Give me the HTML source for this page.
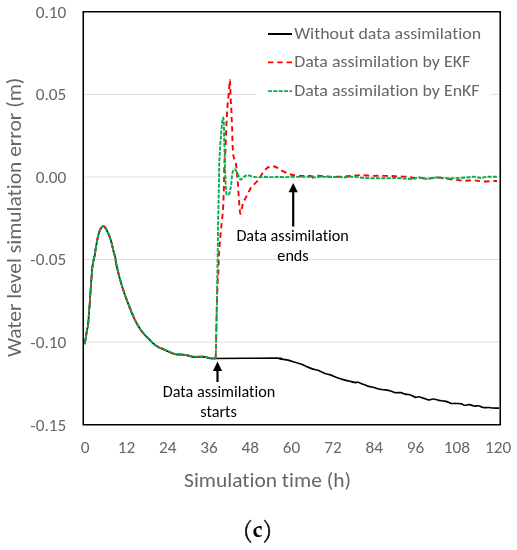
<!DOCTYPE html>
<html><head><meta charset="utf-8"><title>Water level simulation error</title>
<style>
html,body{margin:0;padding:0;background:#fff;}
body{width:517px;height:550px;overflow:hidden;}
svg{display:block;}
text{font-family:Carlito, 'Liberation Sans', sans-serif;font-variant-ligatures:none;font-kerning:normal;}
</style></head>
<body>
<svg width="517" height="550" viewBox="0 0 517 550">
<rect width="517" height="550" fill="#fff"/>
<line x1="84" y1="94.5" x2="500" y2="94.5" stroke="#e0e0e0" stroke-width="1"/>
<line x1="84" y1="177.0" x2="500" y2="177.0" stroke="#e0e0e0" stroke-width="1"/>
<line x1="84" y1="259.5" x2="500" y2="259.5" stroke="#e0e0e0" stroke-width="1"/>
<line x1="84" y1="342.0" x2="500" y2="342.0" stroke="#e0e0e0" stroke-width="1"/>
<path d="M84.40,344.25 C84.53,343.75 84.90,342.75 85.20,341.25 C85.50,339.75 85.90,337.08 86.20,335.25 C86.50,333.42 86.70,331.92 87.00,330.25 C87.30,328.58 87.72,327.42 88.00,325.25 C88.28,323.08 88.50,319.75 88.70,317.25 C88.90,314.75 89.02,312.58 89.20,310.25 C89.38,307.92 89.63,305.75 89.80,303.25 C89.97,300.75 90.08,297.10 90.20,295.25 C90.32,293.40 90.38,293.63 90.50,292.15 C90.62,290.67 90.78,288.13 90.90,286.35 C91.02,284.57 91.07,283.22 91.20,281.45 C91.33,279.68 91.57,277.65 91.70,275.75 C91.83,273.85 91.83,271.83 92.00,270.05 C92.17,268.27 92.40,266.83 92.70,265.05 C93.00,263.27 93.45,260.98 93.80,259.35 C94.15,257.72 94.53,256.68 94.80,255.25 C95.07,253.82 95.10,252.72 95.40,250.75 C95.70,248.78 96.07,246.22 96.60,243.45 C97.13,240.68 97.95,236.53 98.60,234.15 C99.25,231.77 99.80,230.47 100.50,229.15 C101.20,227.83 102.03,226.50 102.80,226.25 C103.57,226.00 104.32,226.72 105.10,227.65 C105.88,228.58 106.72,230.25 107.50,231.85 C108.28,233.45 109.10,235.32 109.80,237.25 C110.50,239.18 111.08,241.12 111.70,243.45 C112.32,245.78 112.92,248.93 113.50,251.25 C114.08,253.57 114.72,255.10 115.20,257.35 C115.68,259.60 115.60,261.08 116.40,264.75 C117.20,268.42 118.65,274.50 120.00,279.35 C121.35,284.20 122.83,289.00 124.50,293.85 C126.17,298.70 128.17,303.90 130.00,308.45 C131.83,313.00 133.68,317.52 135.50,321.15 C137.32,324.78 139.32,327.90 140.90,330.25 C142.48,332.60 143.78,333.88 145.00,335.25 C146.22,336.62 147.37,337.62 148.20,338.45 C149.03,339.28 149.05,339.30 150.00,340.25 C150.95,341.20 152.48,342.98 153.90,344.15 C155.32,345.32 156.83,346.35 158.50,347.25 C160.17,348.15 162.10,348.77 163.90,349.55 C165.70,350.33 167.48,351.17 169.30,351.95 C171.12,352.73 172.85,353.80 174.80,354.25 C176.75,354.70 178.95,354.47 181.00,354.65 C183.05,354.83 185.17,354.98 187.10,355.35 C189.03,355.72 190.78,356.57 192.60,356.85 C194.42,357.13 196.07,357.05 198.00,357.05 C199.93,357.05 202.40,356.67 204.20,356.85 C206.00,357.03 207.27,357.87 208.80,358.15 C210.33,358.43 212.37,358.50 213.40,358.55 C214.43,358.60 204.60,358.52 215.00,358.45 C225.40,358.38 265.03,358.08 275.80,358.15 C286.57,358.22 278.68,358.68 279.60,358.85 C280.52,359.02 279.73,358.90 281.30,359.15 C282.87,359.40 286.75,359.83 289.00,360.35 C291.25,360.87 292.70,361.60 294.80,362.25 C296.90,362.90 299.67,363.53 301.60,364.25 C303.53,364.97 304.63,365.78 306.40,366.55 C308.17,367.32 310.27,368.22 312.20,368.85 C314.13,369.48 315.73,369.52 318.00,370.35 C320.27,371.18 323.87,373.13 325.80,373.85 C327.73,374.57 327.67,374.00 329.60,374.65 C331.53,375.30 335.13,376.92 337.40,377.75 C339.67,378.58 341.27,379.10 343.20,379.65 C345.13,380.20 347.03,380.57 349.00,381.05 C350.97,381.53 353.52,382.35 355.00,382.55 C356.48,382.75 356.68,382.02 357.90,382.25 C359.12,382.48 360.60,383.30 362.30,383.95 C364.00,384.60 366.17,385.55 368.10,386.15 C370.03,386.75 372.10,387.07 373.90,387.55 C375.70,388.03 377.22,388.68 378.90,389.05 C380.58,389.42 382.07,389.43 384.00,389.75 C385.93,390.07 388.68,390.47 390.50,390.95 C392.32,391.43 393.20,392.37 394.90,392.65 C396.60,392.93 399.02,392.40 400.70,392.65 C402.38,392.90 403.67,393.83 405.00,394.15 C406.33,394.47 407.48,394.27 408.70,394.55 C409.92,394.83 411.10,395.38 412.30,395.85 C413.50,396.32 414.82,397.20 415.90,397.35 C416.98,397.50 417.58,396.62 418.80,396.75 C420.02,396.88 421.75,397.67 423.20,398.15 C424.65,398.63 426.43,399.37 427.50,399.65 C428.57,399.93 428.60,399.95 429.60,399.85 C430.60,399.75 431.95,398.97 433.50,399.05 C435.05,399.13 437.22,400.02 438.90,400.35 C440.58,400.68 442.18,400.80 443.60,401.05 C445.02,401.30 446.12,401.45 447.40,401.85 C448.68,402.25 449.88,403.18 451.30,403.45 C452.72,403.72 454.22,403.40 455.90,403.45 C457.58,403.50 459.97,403.45 461.40,403.75 C462.83,404.05 463.22,405.10 464.50,405.25 C465.78,405.40 467.43,404.52 469.10,404.65 C470.77,404.78 472.95,405.87 474.50,406.05 C476.05,406.23 476.98,405.50 478.40,405.75 C479.82,406.00 481.33,407.25 483.00,407.55 C484.67,407.85 486.72,407.47 488.40,407.55 C490.08,407.63 491.33,407.97 493.10,408.05 C494.87,408.13 498.02,408.05 499.00,408.05" fill="none" stroke="#000" stroke-width="1.65" stroke-linejoin="round"/>
<path d="M84.40,344.00 C84.53,343.50 84.90,342.50 85.20,341.00 C85.50,339.50 85.90,336.83 86.20,335.00 C86.50,333.17 86.70,331.67 87.00,330.00 C87.30,328.33 87.72,327.17 88.00,325.00 C88.28,322.83 88.50,319.50 88.70,317.00 C88.90,314.50 89.02,312.33 89.20,310.00 C89.38,307.67 89.63,305.50 89.80,303.00 C89.97,300.50 90.08,296.85 90.20,295.00 C90.32,293.15 90.38,293.38 90.50,291.90 C90.62,290.42 90.78,287.88 90.90,286.10 C91.02,284.32 91.07,282.97 91.20,281.20 C91.33,279.43 91.57,277.40 91.70,275.50 C91.83,273.60 91.83,271.58 92.00,269.80 C92.17,268.02 92.40,266.58 92.70,264.80 C93.00,263.02 93.45,260.73 93.80,259.10 C94.15,257.47 94.53,256.43 94.80,255.00 C95.07,253.57 95.10,252.47 95.40,250.50 C95.70,248.53 96.07,245.97 96.60,243.20 C97.13,240.43 97.95,236.28 98.60,233.90 C99.25,231.52 99.80,230.22 100.50,228.90 C101.20,227.58 102.03,226.25 102.80,226.00 C103.57,225.75 104.32,226.47 105.10,227.40 C105.88,228.33 106.72,230.00 107.50,231.60 C108.28,233.20 109.10,235.07 109.80,237.00 C110.50,238.93 111.08,240.87 111.70,243.20 C112.32,245.53 112.92,248.68 113.50,251.00 C114.08,253.32 114.72,254.85 115.20,257.10 C115.68,259.35 115.60,260.83 116.40,264.50 C117.20,268.17 118.65,274.25 120.00,279.10 C121.35,283.95 122.83,288.75 124.50,293.60 C126.17,298.45 128.17,303.65 130.00,308.20 C131.83,312.75 133.68,317.27 135.50,320.90 C137.32,324.53 139.32,327.65 140.90,330.00 C142.48,332.35 143.78,333.63 145.00,335.00 C146.22,336.37 147.37,337.37 148.20,338.20 C149.03,339.03 149.05,339.05 150.00,340.00 C150.95,340.95 152.48,342.73 153.90,343.90 C155.32,345.07 156.83,346.10 158.50,347.00 C160.17,347.90 162.10,348.52 163.90,349.30 C165.70,350.08 167.48,350.92 169.30,351.70 C171.12,352.48 172.85,353.55 174.80,354.00 C176.75,354.45 178.95,354.22 181.00,354.40 C183.05,354.58 185.17,354.73 187.10,355.10 C189.03,355.47 190.78,356.32 192.60,356.60 C194.42,356.88 196.07,356.80 198.00,356.80 C199.93,356.80 202.40,356.42 204.20,356.60 C206.00,356.78 207.27,357.62 208.80,357.90 C210.33,358.18 212.37,358.25 213.40,358.30 C214.43,358.35 214.62,358.42 215.00,358.20 C215.38,357.98 215.52,359.93 215.70,357.00 C215.88,354.07 215.92,348.80 216.10,340.60 C216.28,332.40 216.52,318.23 216.80,307.80 C217.08,297.37 217.53,283.97 217.80,278.00 C218.07,272.03 218.22,275.73 218.40,272.00 C218.58,268.27 218.62,261.07 218.90,255.60 C219.18,250.13 219.63,244.67 220.10,239.20 C220.57,233.73 221.22,227.72 221.70,222.80 C222.18,217.88 222.70,213.73 223.00,209.70 C223.30,205.67 223.37,201.88 223.50,198.60 C223.63,195.32 223.70,193.10 223.80,190.00 C223.90,186.90 224.03,183.33 224.10,180.00 C224.17,176.67 224.12,173.33 224.20,170.00 C224.28,166.67 224.40,163.17 224.60,160.00 C224.80,156.83 225.13,156.00 225.40,151.00 C225.67,146.00 225.95,135.87 226.20,130.00 C226.45,124.13 226.70,119.63 226.90,115.80 C227.10,111.97 227.17,110.10 227.40,107.00 C227.63,103.90 228.00,100.43 228.30,97.20 C228.60,93.97 228.94,90.48 229.20,87.60 C229.46,84.72 229.67,79.83 229.85,79.90 C230.03,79.97 230.16,84.75 230.30,88.00 C230.44,91.25 230.53,96.05 230.70,99.40 C230.87,102.75 231.15,105.18 231.30,108.10 C231.45,111.02 231.47,113.80 231.60,116.90 C231.73,120.00 231.95,122.38 232.10,126.70 C232.25,131.02 232.30,138.08 232.50,142.80 C232.70,147.52 232.97,152.22 233.30,155.00 C233.63,157.78 234.10,158.23 234.50,159.50 C234.90,160.77 235.37,161.18 235.70,162.60 C236.03,164.02 236.27,166.05 236.50,168.00 C236.73,169.95 236.87,171.63 237.10,174.30 C237.33,176.97 237.63,180.38 237.90,184.00 C238.17,187.62 238.43,192.25 238.70,196.00 C238.97,199.75 239.23,203.53 239.50,206.50 C239.77,209.47 239.97,213.33 240.30,213.80 C240.63,214.27 241.07,210.97 241.50,209.30 C241.93,207.63 242.42,205.28 242.90,203.80 C243.38,202.32 243.73,201.78 244.40,200.40 C245.07,199.02 246.17,196.93 246.90,195.50 C247.63,194.07 248.13,193.12 248.80,191.80 C249.47,190.48 250.07,188.80 250.90,187.60 C251.73,186.40 252.70,185.72 253.80,184.60 C254.90,183.48 256.42,182.18 257.50,180.90 C258.58,179.62 259.35,178.35 260.30,176.90 C261.25,175.45 262.28,173.50 263.20,172.20 C264.12,170.90 264.83,170.00 265.80,169.10 C266.77,168.20 267.98,167.33 269.00,166.80 C270.02,166.27 271.02,165.95 271.90,165.90 C272.78,165.85 273.45,166.22 274.30,166.50 C275.15,166.78 276.10,167.15 277.00,167.60 C277.90,168.05 278.77,168.62 279.70,169.20 C280.63,169.78 281.32,170.42 282.60,171.10 C283.88,171.78 286.17,172.82 287.40,173.30 C288.63,173.78 289.22,173.72 290.00,174.00 C290.78,174.28 291.08,174.78 292.10,175.00 C293.12,175.22 294.75,175.13 296.10,175.30 C297.45,175.47 298.83,175.88 300.20,176.00 C301.57,176.12 302.95,176.07 304.30,176.00 C305.65,175.93 306.95,175.53 308.30,175.60 C309.65,175.67 311.05,176.40 312.40,176.40 C313.75,176.40 315.05,175.67 316.40,175.60 C317.75,175.53 319.13,175.93 320.50,176.00 C321.87,176.07 323.02,175.88 324.60,176.00 C326.18,176.12 328.52,176.57 330.00,176.70 C331.48,176.83 331.18,176.83 333.50,176.80 C335.82,176.77 340.72,176.67 343.90,176.50 C347.08,176.33 349.70,176.03 352.60,175.80 C355.50,175.57 358.10,175.10 361.30,175.10 C364.50,175.10 368.45,175.68 371.80,175.80 C375.15,175.92 378.22,175.77 381.40,175.80 C384.58,175.83 387.87,175.88 390.90,176.00 C393.93,176.12 396.55,176.37 399.60,176.50 C402.65,176.63 406.87,176.55 409.20,176.80 C411.53,177.05 412.05,177.88 413.60,178.00 C415.15,178.12 416.23,177.40 418.50,177.50 C420.77,177.60 424.15,178.60 427.20,178.60 C430.25,178.60 433.47,177.45 436.80,177.50 C440.13,177.55 444.02,178.52 447.20,178.90 C450.38,179.28 453.00,179.50 455.90,179.80 C458.80,180.10 461.55,180.62 464.60,180.70 C467.65,180.78 471.15,180.17 474.20,180.30 C477.25,180.43 479.85,181.38 482.90,181.50 C485.95,181.62 490.15,181.08 492.50,181.00 C494.85,180.92 496.25,181.00 497.00,181.00" fill="none" stroke="#ff0000" stroke-width="1.9" stroke-dasharray="5.4 3.9" stroke-linejoin="round"/>
<path d="M84.40,344.00 C84.53,343.50 84.90,342.50 85.20,341.00 C85.50,339.50 85.90,336.83 86.20,335.00 C86.50,333.17 86.70,331.67 87.00,330.00 C87.30,328.33 87.72,327.17 88.00,325.00 C88.28,322.83 88.50,319.50 88.70,317.00 C88.90,314.50 89.02,312.33 89.20,310.00 C89.38,307.67 89.63,305.50 89.80,303.00 C89.97,300.50 90.08,296.85 90.20,295.00 C90.32,293.15 90.38,293.38 90.50,291.90 C90.62,290.42 90.78,287.88 90.90,286.10 C91.02,284.32 91.07,282.97 91.20,281.20 C91.33,279.43 91.57,277.40 91.70,275.50 C91.83,273.60 91.83,271.58 92.00,269.80 C92.17,268.02 92.40,266.58 92.70,264.80 C93.00,263.02 93.45,260.73 93.80,259.10 C94.15,257.47 94.53,256.43 94.80,255.00 C95.07,253.57 95.10,252.47 95.40,250.50 C95.70,248.53 96.07,245.97 96.60,243.20 C97.13,240.43 97.95,236.28 98.60,233.90 C99.25,231.52 99.80,230.22 100.50,228.90 C101.20,227.58 102.03,226.25 102.80,226.00 C103.57,225.75 104.32,226.47 105.10,227.40 C105.88,228.33 106.72,230.00 107.50,231.60 C108.28,233.20 109.10,235.07 109.80,237.00 C110.50,238.93 111.08,240.87 111.70,243.20 C112.32,245.53 112.92,248.68 113.50,251.00 C114.08,253.32 114.72,254.85 115.20,257.10 C115.68,259.35 115.60,260.83 116.40,264.50 C117.20,268.17 118.65,274.25 120.00,279.10 C121.35,283.95 122.83,288.75 124.50,293.60 C126.17,298.45 128.17,303.65 130.00,308.20 C131.83,312.75 133.68,317.27 135.50,320.90 C137.32,324.53 139.32,327.65 140.90,330.00 C142.48,332.35 143.78,333.63 145.00,335.00 C146.22,336.37 147.37,337.37 148.20,338.20 C149.03,339.03 149.05,339.05 150.00,340.00 C150.95,340.95 152.48,342.73 153.90,343.90 C155.32,345.07 156.83,346.10 158.50,347.00 C160.17,347.90 162.10,348.52 163.90,349.30 C165.70,350.08 167.48,350.92 169.30,351.70 C171.12,352.48 172.85,353.55 174.80,354.00 C176.75,354.45 178.95,354.22 181.00,354.40 C183.05,354.58 185.17,354.73 187.10,355.10 C189.03,355.47 190.78,356.32 192.60,356.60 C194.42,356.88 196.07,356.80 198.00,356.80 C199.93,356.80 202.40,356.42 204.20,356.60 C206.00,356.78 207.27,357.62 208.80,357.90 C210.33,358.18 212.37,358.25 213.40,358.30 C214.43,358.35 214.62,358.42 215.00,358.20 C215.38,357.98 215.52,359.93 215.70,357.00 C215.88,354.07 215.92,348.80 216.10,340.60 C216.28,332.40 216.60,318.15 216.80,307.80 C217.00,297.45 217.13,288.57 217.30,278.50 C217.47,268.43 217.67,256.68 217.80,247.40 C217.93,238.12 217.97,230.67 218.10,222.80 C218.23,214.93 218.45,207.33 218.60,200.20 C218.75,193.07 218.90,185.87 219.00,180.00 C219.10,174.13 219.05,169.83 219.20,165.00 C219.35,160.17 219.60,156.07 219.90,151.00 C220.20,145.93 220.62,139.25 221.00,134.60 C221.38,129.95 221.85,125.97 222.20,123.10 C222.55,120.23 222.83,117.40 223.10,117.40 C223.37,117.40 223.60,118.87 223.80,123.10 C224.00,127.33 224.13,136.78 224.30,142.80 C224.47,148.82 224.63,153.67 224.80,159.20 C224.97,164.73 225.17,171.98 225.30,176.00 C225.43,180.02 225.48,181.12 225.60,183.30 C225.72,185.48 225.87,187.28 226.00,189.10 C226.13,190.92 226.15,193.22 226.40,194.20 C226.65,195.18 227.02,195.12 227.50,195.00 C227.98,194.88 228.82,194.48 229.30,193.50 C229.78,192.52 230.07,190.80 230.40,189.10 C230.73,187.40 231.00,185.72 231.30,183.30 C231.60,180.88 231.87,176.78 232.20,174.60 C232.53,172.42 232.82,171.05 233.30,170.20 C233.78,169.35 234.50,169.13 235.10,169.50 C235.70,169.87 236.35,171.43 236.90,172.40 C237.45,173.37 237.92,174.22 238.40,175.30 C238.88,176.38 239.32,178.22 239.80,178.90 C240.28,179.58 240.65,179.72 241.30,179.40 C241.95,179.08 242.92,177.63 243.70,177.00 C244.48,176.37 245.37,175.90 246.00,175.60 C246.63,175.30 246.75,175.15 247.50,175.20 C248.25,175.25 249.42,175.62 250.50,175.90 C251.58,176.18 252.63,176.63 254.00,176.90 C255.37,177.17 257.12,177.52 258.70,177.50 C260.28,177.48 261.72,176.87 263.50,176.80 C265.28,176.73 267.43,177.05 269.40,177.10 C271.37,177.15 273.78,177.13 275.30,177.10 C276.82,177.07 276.83,176.90 278.50,176.90 C280.17,176.90 283.03,177.13 285.30,177.10 C287.57,177.07 289.85,176.73 292.10,176.70 C294.35,176.67 297.00,176.87 298.80,176.90 C300.60,176.93 301.32,176.93 302.90,176.90 C304.48,176.87 306.72,176.57 308.30,176.70 C309.88,176.83 310.58,177.70 312.40,177.70 C314.22,177.70 316.95,176.83 319.20,176.70 C321.45,176.57 323.43,176.85 325.90,176.90 C328.37,176.95 331.00,176.95 334.00,177.00 C337.00,177.05 340.80,177.23 343.90,177.20 C347.00,177.17 349.12,176.67 352.60,176.80 C356.08,176.93 361.02,177.77 364.80,178.00 C368.58,178.23 371.82,178.17 375.30,178.20 C378.78,178.23 382.22,178.23 385.70,178.20 C389.18,178.17 393.00,177.93 396.20,178.00 C399.40,178.07 402.00,178.45 404.90,178.60 C407.80,178.75 411.33,179.08 413.60,178.90 C415.87,178.72 416.23,177.50 418.50,177.50 C420.77,177.50 424.15,178.90 427.20,178.90 C430.25,178.90 433.47,177.62 436.80,177.50 C440.13,177.38 444.02,178.10 447.20,178.20 C450.38,178.30 452.85,178.22 455.90,178.10 C458.95,177.98 462.30,177.72 465.50,177.50 C468.70,177.28 472.48,176.72 475.10,176.80 C477.72,176.88 479.32,178.00 481.20,178.00 C483.08,178.00 484.35,177.00 486.40,176.80 C488.45,176.60 491.73,176.80 493.50,176.80 C495.27,176.80 496.42,176.80 497.00,176.80" fill="none" stroke="#00b050" stroke-width="1.9" stroke-dasharray="4 1.35" stroke-linejoin="round"/>
<path d="M83.25,11.75 H500.25 V424.75 H83.25 Z" fill="none" stroke="#000" stroke-width="1.55"/>
<text transform="translate(66.3,17.55) scale(1,0.915)" font-size="17.3" fill="#666666" text-anchor="end" textLength="30.68" lengthAdjust="spacingAndGlyphs">0.10</text>
<text transform="translate(66.3,100.15) scale(1,0.915)" font-size="17.3" fill="#666666" text-anchor="end" textLength="30.68" lengthAdjust="spacingAndGlyphs">0.05</text>
<text transform="translate(66.3,182.75) scale(1,0.915)" font-size="17.3" fill="#666666" text-anchor="end" textLength="30.68" lengthAdjust="spacingAndGlyphs">0.00</text>
<text transform="translate(66.3,265.35) scale(1,0.915)" font-size="17.3" fill="#666666" text-anchor="end" textLength="35.96" lengthAdjust="spacingAndGlyphs">-0.05</text>
<text transform="translate(66.3,347.95) scale(1,0.915)" font-size="17.3" fill="#666666" text-anchor="end" textLength="35.96" lengthAdjust="spacingAndGlyphs">-0.10</text>
<text transform="translate(66.3,430.55) scale(1,0.915)" font-size="17.3" fill="#666666" text-anchor="end" textLength="35.96" lengthAdjust="spacingAndGlyphs">-0.15</text>
<text transform="translate(85.2,452.8) scale(1,0.915)" font-size="17.3" fill="#666666" text-anchor="middle" textLength="8.77" lengthAdjust="spacingAndGlyphs">0</text>
<text transform="translate(126.5,452.8) scale(1,0.915)" font-size="17.3" fill="#666666" text-anchor="middle" textLength="17.54" lengthAdjust="spacingAndGlyphs">12</text>
<text transform="translate(167.8,452.8) scale(1,0.915)" font-size="17.3" fill="#666666" text-anchor="middle" textLength="17.54" lengthAdjust="spacingAndGlyphs">24</text>
<text transform="translate(209.1,452.8) scale(1,0.915)" font-size="17.3" fill="#666666" text-anchor="middle" textLength="17.54" lengthAdjust="spacingAndGlyphs">36</text>
<text transform="translate(250.3,452.8) scale(1,0.915)" font-size="17.3" fill="#666666" text-anchor="middle" textLength="17.54" lengthAdjust="spacingAndGlyphs">48</text>
<text transform="translate(291.6,452.8) scale(1,0.915)" font-size="17.3" fill="#666666" text-anchor="middle" textLength="17.54" lengthAdjust="spacingAndGlyphs">60</text>
<text transform="translate(332.9,452.8) scale(1,0.915)" font-size="17.3" fill="#666666" text-anchor="middle" textLength="17.54" lengthAdjust="spacingAndGlyphs">72</text>
<text transform="translate(374.2,452.8) scale(1,0.915)" font-size="17.3" fill="#666666" text-anchor="middle" textLength="17.54" lengthAdjust="spacingAndGlyphs">84</text>
<text transform="translate(415.5,452.8) scale(1,0.915)" font-size="17.3" fill="#666666" text-anchor="middle" textLength="17.54" lengthAdjust="spacingAndGlyphs">96</text>
<text transform="translate(456.8,452.8) scale(1,0.915)" font-size="17.3" fill="#666666" text-anchor="middle" textLength="26.31" lengthAdjust="spacingAndGlyphs">108</text>
<text transform="translate(498.1,452.8) scale(1,0.915)" font-size="17.3" fill="#666666" text-anchor="middle" textLength="26.31" lengthAdjust="spacingAndGlyphs">120</text>
<text transform="translate(20.7,217.4) rotate(-90) scale(1,0.97)" font-size="21.5" fill="#666666" text-anchor="middle" textLength="279.44" lengthAdjust="spacingAndGlyphs">Water level simulation error (m)</text>
<text transform="translate(267.5,487) scale(1,0.97)" font-size="21.5" fill="#666666" text-anchor="middle" textLength="166.97" lengthAdjust="spacingAndGlyphs">Simulation time (h)</text>
<rect x="256" y="16" width="235" height="85" fill="#fff"/>
<g font-size="17.9" fill="#666666">
<line x1="268" y1="34" x2="292" y2="34" stroke="#000" stroke-width="2"/>
<line x1="268" y1="62.4" x2="292" y2="62.4" stroke="#ff0000" stroke-width="1.7" stroke-dasharray="5.4 3.9"/>
<line x1="268" y1="91.1" x2="292" y2="91.1" stroke="#00b050" stroke-width="1.8" stroke-dasharray="4 1.35"/>
<text transform="translate(294.2,38.8) scale(1,0.93)" font-size="17.9" fill="#666666" textLength="186.89" lengthAdjust="spacingAndGlyphs">Without data assimilation</text>
<text transform="translate(294.2,67.4) scale(1,0.93)" font-size="17.9" fill="#666666" textLength="175.97" lengthAdjust="spacingAndGlyphs">Data assimilation by EKF</text>
<text transform="translate(294.2,96.0) scale(1,0.93)" font-size="17.9" fill="#666666" textLength="185.35" lengthAdjust="spacingAndGlyphs">Data assimilation by EnKF</text>
</g>
<g fill="#000">
<line x1="293.2" y1="190" x2="293.2" y2="226.5" stroke="#000" stroke-width="2.2"/>
<polygon points="293.2,183 288.6,192.3 297.8,192.3"/>
<line x1="217.5" y1="369" x2="217.5" y2="382" stroke="#000" stroke-width="2.2"/>
<polygon points="217.5,361.6 212.9,370.9 222.1,370.9"/>
</g>
<text transform="translate(292.6,241.4) scale(1,0.98)" font-size="16.2" fill="#000" text-anchor="middle" textLength="112.4" lengthAdjust="spacingAndGlyphs">Data assimilation</text>
<text transform="translate(293,261.2) scale(1,0.98)" font-size="16.2" fill="#000" text-anchor="middle" textLength="31.37" lengthAdjust="spacingAndGlyphs">ends</text>
<text transform="translate(219,396.5) scale(1,0.98)" font-size="16.2" fill="#000" text-anchor="middle" textLength="112.4" lengthAdjust="spacingAndGlyphs">Data assimilation</text>
<text transform="translate(218.6,416.8) scale(1,0.98)" font-size="16.2" fill="#000" text-anchor="middle" textLength="36.5" lengthAdjust="spacingAndGlyphs">starts</text>
<text x="257.3" y="536.6" font-size="23" text-anchor="middle" style="font-family:'TeX Gyre Pagella', 'Palatino Linotype', 'Liberation Serif', serif" fill="#000" letter-spacing="-0.5"><tspan stroke="#000" stroke-width="0.45">(</tspan><tspan font-weight="bold">c</tspan><tspan stroke="#000" stroke-width="0.45">)</tspan></text>
</svg>
</body></html>
